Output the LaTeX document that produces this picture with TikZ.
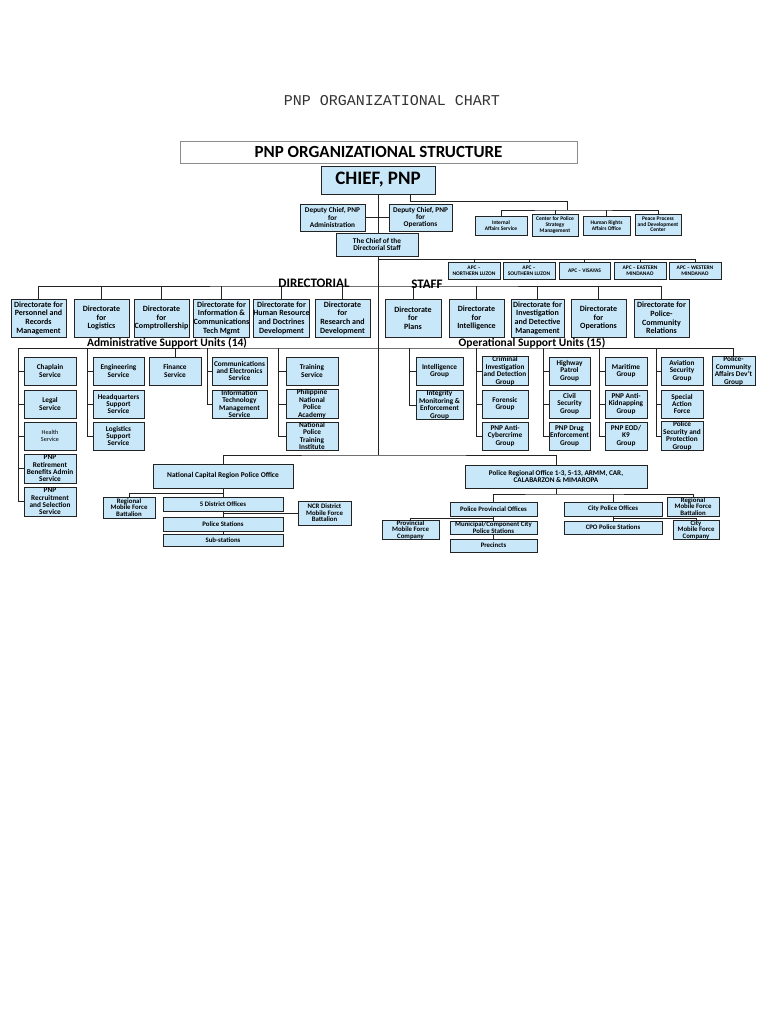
\documentclass[tikz,border=0pt]{standalone}
\usepackage{fontspec}
\setmainfont{Carlito}
\setmonofont{Liberation Mono}
\usetikzlibrary{backgrounds}
\definecolor{pblue}{RGB}{200,232,250}
\definecolor{pline}{RGB}{35,35,35}

\tikzset{
  unit/.style={draw=pline, fill=pblue, line width=0.9pt, inner sep=0pt, align=center,
    font=\bfseries\fontsize{7.3}{7.4}\selectfont},
  tinyunit/.style={font=\bfseries\fontsize{5.5}{5.7}\selectfont},
  dirunit/.style={font=\bfseries\fontsize{8}{8.6}\selectfont},
  topunit/.style={font=\bfseries\fontsize{7.3}{7.2}\selectfont},
  lowunit/.style={font=\bfseries\fontsize{6.8}{6.5}\selectfont},
  link/.style={draw=pline, line width=0.9pt},
  band/.style={font=\bfseries\fontsize{13}{14}\selectfont, inner sep=0pt},
  subband/.style={font=\bfseries\fontsize{11.5}{13}\selectfont, inner sep=0pt},
}
% box from its corners: \unitbox[style]{name}{x1}{y1}{x2}{y2}{text}
\newcommand{\unitbox}[7][]{\node[unit,#1,minimum width={#5-#3},minimum height={#6-#4}]
  (#2) at ({(#3+#5)/2},{(#4+#6)/2}) {#7};}

\begin{document}
\begin{tikzpicture}[x=1pt,y=-1pt]
\useasboundingbox (0,0) rectangle (768,1024);

% titles
\node[font=\ttfamily\fontsize{15}{16}\selectfont, text=black!80] (title) at (392,101) {PNP ORGANIZATIONAL CHART};
\node[draw=black!45, line width=0.8pt, inner sep=0pt, minimum width=397, minimum height=22,
  font=\bfseries\fontsize{17}{18}\selectfont] (header) at (378.5,152) {PNP ORGANIZATIONAL STRUCTURE};

% command group
\unitbox[font=\bfseries\fontsize{19}{20}\selectfont]{chief}{321}{166}{435}{194}{CHIEF, PNP}
\unitbox[topunit]{depadm}{300}{204}{365}{231}{Deputy Chief, PNP\\for\\Administration}
\unitbox[topunit]{depops}{389}{204}{452}{231}{Deputy Chief, PNP\\for\\Operations}
\unitbox[topunit]{cds}{336}{233}{418}{256}{The Chief of the\\Directorial Staff}

% personal staff
\unitbox[tinyunit]{ias}{475}{216}{527}{235}{Internal\\Affairs Service}
\unitbox[tinyunit]{cpsm}{532}{214}{578}{236}{Center for Police\\Strategy\\Management}
\unitbox[tinyunit]{hrao}{583}{216}{630}{235}{Human Rights\\Affairs Office}
\unitbox[tinyunit]{ppdc}{635}{214}{681}{235}{Peace Process\\and Development\\Center}

% area police commands
\unitbox[tinyunit]{apcnl}{448}{262}{500}{279}{APC --\\NORTHERN LUZON}
\unitbox[tinyunit]{apcsl}{503}{262}{555}{279}{APC --\\SOUTHERN LUZON}
\unitbox[tinyunit]{apcvi}{559}{262}{610}{279}{APC -- VISAYAS}
\unitbox[tinyunit]{apcem}{614}{262}{666}{279}{APC -- EASTERN\\MINDANAO}
\unitbox[tinyunit]{apcwm}{669}{262}{721}{279}{APC -- WESTERN\\MINDANAO}

% directorial staff
\unitbox[dirunit]{dprm}{11}{299}{66}{337}{Directorate for\\Personnel and\\Records\\Management}
\unitbox[dirunit]{dl}{74}{299}{129}{337}{Directorate\\for\\Logistics}
\unitbox[dirunit]{dc}{134}{299}{189}{337}{Directorate\\for\\Comptrollership}
\unitbox[dirunit]{dict}{194}{299}{249}{337}{Directorate for\\Information \&\\Communications\\Tech Mgmt}
\unitbox[dirunit]{dhrdd}{254}{299}{309}{337}{Directorate for\\Human Resource\\and Doctrines\\Development}
\unitbox[dirunit]{drd}{315}{299}{370}{337}{Directorate\\for\\Research and\\Development}
\unitbox[dirunit]{dpl}{385}{299}{441}{337}{Directorate\\for\\Plans}
\unitbox[dirunit]{di}{449}{299}{504}{337}{Directorate\\for\\Intelligence}
\unitbox[dirunit]{didm}{511}{299}{564}{337}{Directorate for\\Investigation\\and Detective\\Management}
\unitbox[dirunit]{do}{571}{299}{626}{337}{Directorate\\for\\Operations}
\unitbox[dirunit]{dpcr}{634}{299}{689}{337}{Directorate for\\Police-\\Community\\Relations}

\node[band] (lbldir) at (314,283) {DIRECTORIAL};
\node[band] (lblstf) at (427,284) {STAFF};
\node[subband] (lbladm) at (167,343) {Administrative Support Units (14)};
\node[subband] (lblops) at (532,343) {Operational Support Units (15)};

% administrative support units
\unitbox{chaplain}{24}{357}{76}{385}{Chaplain\\Service}
\unitbox{legal}{24}{390}{76}{418}{Legal\\Service}
\unitbox[font=\fontsize{6.2}{7}\selectfont]{health}{24}{422}{76}{450}{Health\\Service}
\unitbox{retire}{24}{454}{76}{483}{PNP\\Retirement\\Benefits Admin\\Service}
\unitbox{recruit}{24}{487}{76}{516}{PNP\\Recruitment\\and Selection\\Service}
\unitbox{eng}{93}{357}{144}{385}{Engineering\\Service}
\unitbox{hqss}{93}{390}{144}{418}{Headquarters\\Support\\Service}
\unitbox{lss}{93}{422}{144}{450}{Logistics\\Support\\Service}
\unitbox{finance}{149}{357}{201}{385}{Finance\\Service}
\unitbox{ces}{212}{357}{267}{385}{Communications\\and Electronics\\Service}
\unitbox{itms}{212}{390}{267}{418}{Information\\Technology\\Management\\Service}
\unitbox{trng}{286}{357}{338}{385}{Training\\Service}
\unitbox{pnpa}{286}{390}{338}{418}{Philippine\\National\\Police\\Academy}
\unitbox{npti}{286}{422}{338}{450}{National\\Police\\Training\\Institute}

% operational support units
\unitbox{ig}{416}{357}{463}{385}{Intelligence\\Group}
\unitbox{imeg}{416}{391}{463}{419}{Integrity\\Monitoring \&\\Enforcement\\Group}
\unitbox{cidg}{482}{357}{528}{385}{Criminal\\Investigation\\and Detection\\Group}
\unitbox{fg}{482}{390}{528}{418}{Forensic\\Group}
\unitbox{acg}{482}{422}{528}{450}{PNP Anti-\\Cybercrime\\Group}
\unitbox{hpg}{549}{357}{590}{385}{Highway\\Patrol\\Group}
\unitbox{csg}{549}{390}{590}{418}{Civil\\Security\\Group}
\unitbox{deg}{549}{422}{590}{450}{PNP Drug\\Enforcement\\Group}
\unitbox{mg}{605}{357}{647}{385}{Maritime\\Group}
\unitbox{akg}{605}{390}{647}{418}{PNP Anti-\\Kidnapping\\Group}
\unitbox{eod}{605}{422}{647}{450}{PNP EOD/\\K9\\Group}
\unitbox{asg}{661}{357}{703}{385}{Aviation\\Security\\Group}
\unitbox{saf}{661}{390}{703}{418}{Special\\Action\\Force}
\unitbox{pspg}{661}{422}{703}{450}{Police\\Security and\\Protection\\Group}
\unitbox{pcadg}{712}{357}{755}{385}{Police-\\Community\\Affairs Dev't\\Group}

% regional offices
\unitbox[lowunit, font=\bfseries\fontsize{7.4}{8}\selectfont]{ncr}{153}{464}{293}{488}{National Capital Region Police Office}
\unitbox[lowunit]{rmfb}{103}{497}{155}{518}{Regional\\Mobile Force\\Battalion}
\unitbox[lowunit]{dist}{163}{497}{283}{511}{5 District Offices}
\unitbox[lowunit]{ncrdmfb}{298}{501}{351}{525}{NCR District\\Mobile Force\\Battalion}
\unitbox[lowunit]{ps}{163}{517}{283}{531}{Police Stations}
\unitbox[lowunit]{subst}{163}{534}{283}{546}{Sub-stations}

\unitbox[lowunit, font=\bfseries\fontsize{7.2}{7}\selectfont]{pro}{465}{465}{647}{488}{Police Regional Office 1-3, 5-13, ARMM, CAR,\\CALABARZON \& MIMAROPA}
\unitbox[lowunit]{ppo}{450}{502}{537}{516}{Police Provincial Offices}
\unitbox[lowunit]{cpo}{564}{502}{662}{516}{City Police Offices}
\unitbox[lowunit]{rmfbb}{667}{497}{719}{516}{Regional\\Mobile Force\\Battalion}
\unitbox[lowunit]{pmfc}{382}{521}{439}{539}{Provincial\\Mobile Force\\Company}
\unitbox[lowunit]{mcps}{450}{521}{537}{534}{Municipal/Component City\\Police Stations}
\unitbox[lowunit]{prec}{450}{539}{537}{552}{Precincts}
\unitbox[lowunit]{cpops}{564}{521}{662}{534}{CPO Police Stations}
\unitbox[lowunit]{cmfc}{673}{521}{719}{539}{City\\Mobile Force\\Company}

% bars and columns
\coordinate (stfbar) at (567,210);
\coordinate (apcbar) at (378,259);
\coordinate (dirbar) at (378,286);
\coordinate (supbar) at (378,348);
\coordinate (ncrjoin) at (378,455);
\coordinate (ncrsplit) at (223,493);
\coordinate (prosplit) at (556,494);
\coordinate (ppobar) at (493,518);
\coordinate (cpobar) at (613,518);

\begin{scope}[on background layer]
% command line
\draw[link] (chief.south) -- (ncrjoin);
\draw[link] (depadm.east) -- (depops.west);
\draw[link] ([xshift=32pt]chief.south) -- ++(0,7) -| (stfbar);
\draw[link] (ias.north) |- (stfbar) -| (ppdc.north);
\foreach \n in {cpsm,hrao}
  \draw[link] (\n.north) -- (\n.north |- stfbar);

\draw[link] (apcbar) -| (apcwm.north);
\foreach \n in {apcnl,apcsl,apcvi,apcem}
  \draw[link] (\n.north) -- (\n.north |- apcbar);

\draw[link] (dprm.north) |- (dirbar) -| (dpcr.north);
\foreach \n in {dl,dc,dict,dhrdd,drd,dpl,di,didm,do}
  \draw[link] (\n.north) -- (\n.north |- dirbar);

% support units
\draw[link] (pcadg.north) |- (supbar) -| (18,0 |- recruit.west) -- (recruit.west);
\foreach \n in {chaplain,legal,health,retire}
  \draw[link] (\n.west) -- (18,0 |- \n.west);
\draw[link] (finance.north) -- (finance.north |- supbar);
\foreach \x/\last/\rows in {87/lss/{eng,hqss}, 207/itms/{ces}, 278/npti/{trng,pnpa},
    409/imeg/{ig}, 476/acg/{cidg,fg}, 543/deg/{hpg,csg}, 599/eod/{mg,akg}, 656/pspg/{asg,saf}}{
  \draw[link] (\x,0 |- supbar) |- (\last.west);
  \foreach \n in \rows
    \draw[link] (\n.west) -- (\x,0 |- \n.west);
}

% regions
\draw[link] (ncr.north) |- (ncrjoin) -| (pro.north);
\draw[link] (ncr.south) -- (ps.north);
\draw[link] (ps.south) -- (subst.north);
\draw[link] (rmfb.north) |- (ncrsplit);
\draw[link] (ncrdmfb.west) -- (ps.north |- ncrdmfb.west);
\draw[link] (pro.south) -- (prosplit);
\draw[link] (ppo.north) |- (prosplit) -| (rmfbb.north);
\draw[link] (cpo.north) -- (cpo.north |- prosplit);
\draw[link] (ppo.south) -- (mcps.north);
\draw[link] (mcps.south) -- (prec.north);
\draw[link] (pmfc.north) |- (ppobar);
\draw[link] (cpo.south) -- (cpops.north);
\draw[link] (cpobar) -| (cmfc.north);
\end{scope}

\end{tikzpicture}
\end{document}
